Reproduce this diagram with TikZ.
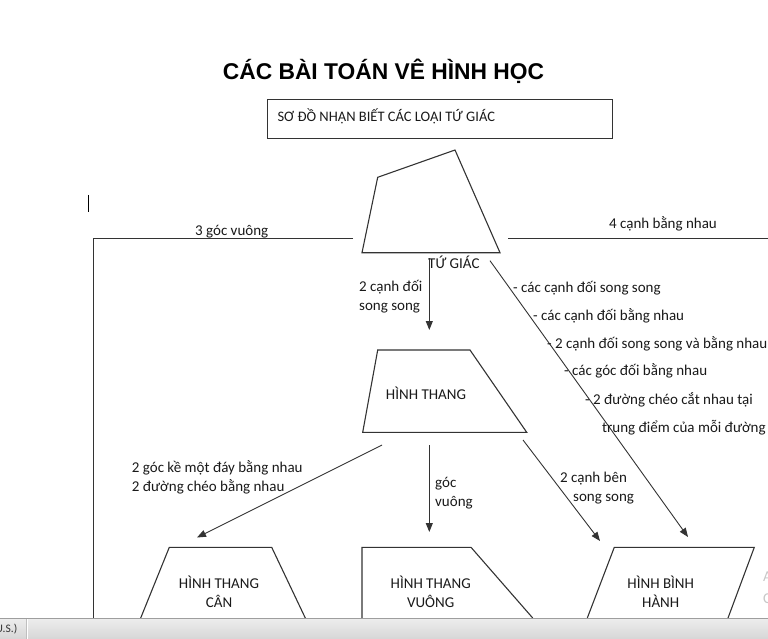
\documentclass[tikz,border=0pt]{standalone}
\usepackage{fontspec}
\setmainfont{Carlito}
\newfontfamily\titlefont{Liberation Sans}
\usetikzlibrary{arrows.meta}
\begin{document}
\begin{tikzpicture}[x=1pt,y=-1pt,
  txt/.style={inner sep=0pt, font=\fontsize{15}{19}\selectfont, text=black!90},
  lbl/.style={txt, anchor=base west},
  ctr/.style={txt, anchor=base},
  shp/.style={draw=black!80, line width=1.1pt, line join=miter},
  conn/.style={draw=black!80, line width=0.9pt},
  arr/.style={conn, -{Triangle[length=9pt,width=7pt]}}]
\useasboundingbox (0,0) rectangle (768,639);
\clip (0,0) rectangle (768,639);

% title
\node[inner sep=0pt, anchor=base, font=\titlefont\bfseries\fontsize{22.8}{27}\selectfont] (title) at (383.5,80) {CÁC BÀI TOÁN VÊ HÌNH HỌC};

% header box
\draw[draw=black!80, line width=1pt] (267.7,100) rectangle (612.7,139);
\node[lbl, font=\fontsize{14.5}{19}\selectfont] (boxtext) at (277.3,122) {SƠ ĐỒ NHẬN BIẾT CÁC LOẠI TỨ GIÁC};

% cursor
\draw[line width=1.3pt] (88.3,195) -- (88.3,212);

% Tu giac shape
\draw[shp] (377.7,177.3) -- (455,150) -- (500,252.7) -- (362,252.7) -- cycle;
\node[lbl] (tg) at (428,268.7) {TỨ GIÁC};

% side lines
\coordinate (l1) at (353,238.5);
\coordinate (l2) at (93.5,238.5);
\coordinate (l3) at (93.5,640);
\draw[conn] (l1) -- (l2) -- (l3);
\node[ctr] (t3gv) at (231.7,235) {3 góc vuông};
\coordinate (r1) at (508,238.3);
\coordinate (r2) at (770,238.3);
\draw[conn] (r1) -- (r2);
\node[ctr] (t4c) at (663,229) {4 cạnh bằng nhau};

% tu giac -> hinh thang
\coordinate (a1s) at (429.3,258);
\coordinate (a1e) at (429.3,330);
\draw[arr] (a1s) -- (a1e);
\node[lbl] (t2cd) at (359,291) {2 cạnh đối};
\node[lbl] (tss1) at (359,310) {song song};

% hinh thang
\draw[shp] (377.7,350) -- (470,350) -- (526.7,432.3) -- (362.7,432.3) -- cycle;
\node[ctr] (ht) at (426,399) {HÌNH THANG};

% tu giac -> hinh binh hanh
\coordinate (a2s) at (490,260.7);
\coordinate (a2e) at (688,537);
\draw[arr] (a2s) -- (a2e);
\node[lbl] (p1) at (513,292.5) {- các cạnh đối song song};
\node[lbl] (p2) at (533,320.5) {- các cạnh đối bằng nhau};
\node[lbl] (p3) at (547,348) {- 2 cạnh đối song song và bằng nhau};
\node[lbl] (p4) at (564,375.5) {- các góc đối bằng nhau};
\node[lbl] (p5) at (585,404) {- 2 đường chéo cắt nhau tại};
\node[lbl] (p6) at (602,432) {trung điểm của mỗi đường};

% hinh thang -> hinh thang can
\coordinate (a3s) at (382,445);
\coordinate (a3e) at (197,537.5);
\draw[arr] (a3s) -- (a3e);
\node[lbl] (c1) at (131.7,472.7) {2 góc kề một đáy bằng nhau};
\node[lbl] (c2) at (131.7,491.7) {2 đường chéo bằng nhau};

% hinh thang -> hinh thang vuong
\coordinate (a4s) at (429.3,445);
\coordinate (a4e) at (429.3,532);
\draw[arr] (a4s) -- (a4e);
\node[lbl] (v1) at (435,487) {góc};
\node[lbl] (v2) at (435,506) {vuông};

% hinh thang -> hinh binh hanh
\coordinate (a5s) at (523,440);
\coordinate (a5e) at (600,541);
\draw[arr] (a5s) -- (a5e);
\node[lbl] (b1) at (560,482) {2 cạnh bên};
\node[lbl] (b2) at (573,501) {song song};

% bottom shapes
\draw[shp] (140.7,618) -- (169.3,547.3) -- (271.7,547.3) -- (305.3,618);
\node[ctr] (htc1) at (219,588) {HÌNH THANG};
\node[ctr] (htc2) at (219,607) {CÂN};
\draw[shp] (362,618) -- (362,547.3) -- (471,547.3) -- (532.7,618);
\node[ctr] (htv1) at (430.7,588) {HÌNH THANG};
\node[ctr] (htv2) at (430.7,607) {VUÔNG};
\draw[shp] (587.3,618) -- (614.3,547.3) -- (754.3,547.3) -- (728,618);
\node[ctr] (hbh1) at (660.7,588) {HÌNH BÌNH};
\node[ctr] (hbh2) at (660.7,607) {HÀNH};

% watermark
\node[inner sep=0pt, anchor=base west, font=\fontsize{15}{19}\selectfont, text=black!22] (wm1) at (763,581.7) {A};
\node[inner sep=0pt, anchor=base west, font=\fontsize{15}{19}\selectfont, text=black!22] (wm2) at (763,603) {C};

% status bar
\fill[top color=black!7, bottom color=black!16] (0,618.5) rectangle (768,639);
\draw[black!38, line width=0.8pt] (0,618.5) -- (768,618.5);
\draw[black!25, line width=0.8pt] (26,619) -- (26,639);
\draw[white, line width=0.6pt] (27,619) -- (27,639);
\node[inner sep=0pt, anchor=base east, font=\fontsize{11.5}{14}\selectfont, text=black!80] (lang) at (17.5,632) {(U.S.)};
\end{tikzpicture}
\end{document}
